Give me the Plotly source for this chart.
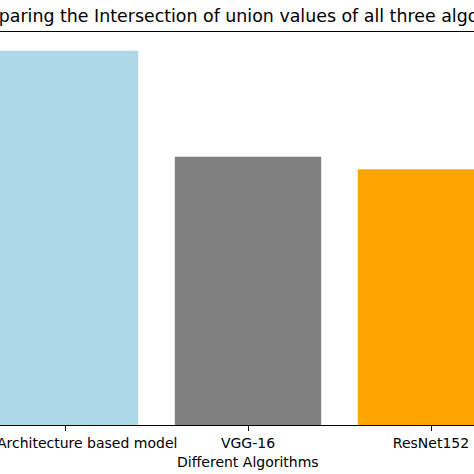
import plotly.graph_objects as go

# IoU values per algorithm (y axis is cropped in the source)
algorithms = ['U-Net Architecture based model', 'VGG-16', 'ResNet152']
iou_values = [0.95, 0.681, 0.649]
bar_colors = ['lightblue', 'grey', 'orange']

W, H = 474, 474
top, bottom = 32, 49
plot_h = H - top - bottom

fig = go.Figure(go.Bar(
    x=algorithms,
    y=iou_values,
    width=0.8,
    marker=dict(color=bar_colors, line=dict(width=0)),
))

font = 'DejaVu Sans'
fig.update_layout(
    width=W, height=H,
    margin=dict(l=0, r=0, t=top, b=bottom, autoexpand=False),
    plot_bgcolor='white',
    paper_bgcolor='white',
    showlegend=False,
    font=dict(family=font, color='black', size=14),
)

# title is centred over the (cropped) axes, roughly above the middle category
fig.add_annotation(
    text='Comparing the Intersection of union values of all three algorithms',
    xref='paper', yref='paper',
    x=247 / W, y=1 + (top - 16) / plot_h, xanchor='center', yanchor='middle',
    showarrow=False, font=dict(family=font, size=17.4, color='black'),
)
fig.add_annotation(
    text='Different Algorithms', xref='paper', yref='paper',
    x=248 / W, y=-(462 - 425) / plot_h, xanchor='center', yanchor='middle',
    showarrow=False, font=dict(family=font, size=14, color='black'),
)

fig.update_xaxes(
    type='category', range=[-65 / 183, 2 + 43 / 183], automargin=False,
    showline=True, linecolor='black', linewidth=1.2, mirror=True,
    ticks='outside', ticklen=5, tickcolor='black', tickwidth=1,
    showgrid=False, zeroline=False,
    tickfont=dict(family=font, size=14, color='black'),
)
fig.update_yaxes(
    range=[0, 1.05 * max(iou_values)], automargin=False,
    showticklabels=False, showgrid=False, zeroline=False, showline=False, ticks='',
)

# drop the browser's default 8px body margin so the figure sits at the window corner
fig.write_html("out.html", config={'displayModeBar': False},
               post_script="document.body.style.margin='0';document.body.style.overflow='hidden';")
